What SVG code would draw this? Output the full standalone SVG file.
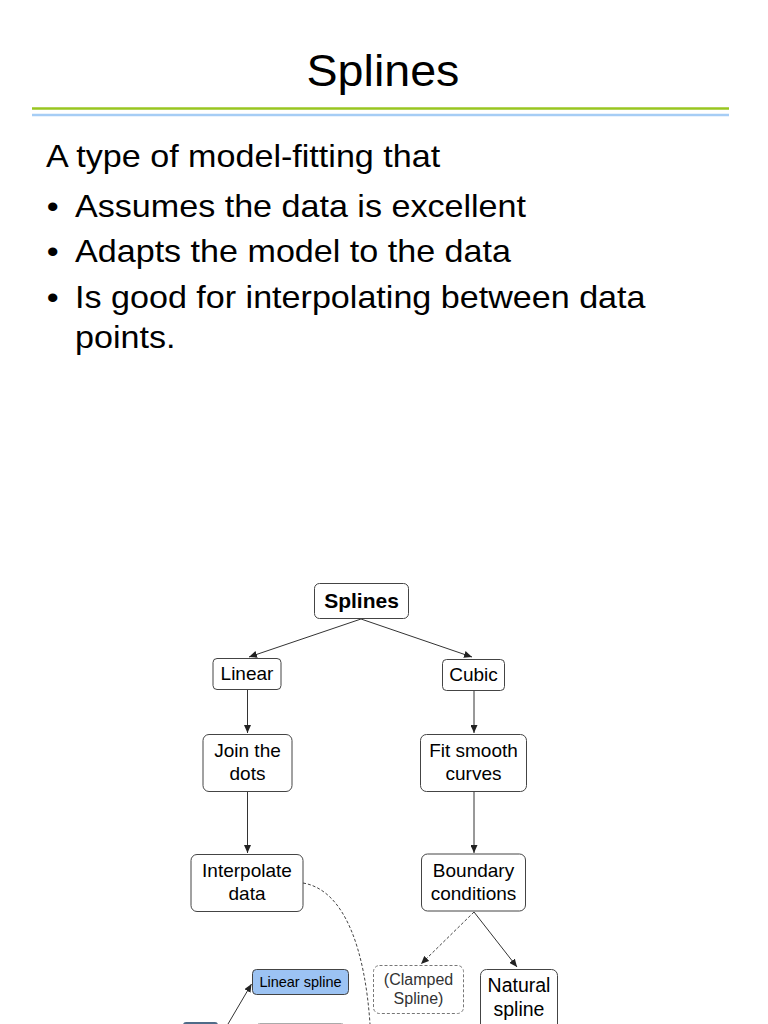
<svg xmlns="http://www.w3.org/2000/svg" width="768" height="1024" viewBox="0 0 768 1024">
<defs>
<style>
.t{font-family:"Liberation Sans",Arial,sans-serif;fill:#000}
.n{fill:#fff;stroke:#444;stroke-width:1}
.nl{font-family:"Liberation Sans",Arial,sans-serif;text-anchor:middle;fill:#000}
.c{fill:none;stroke:#333;stroke-width:1}
.d{fill:none;stroke:#444;stroke-width:1;stroke-dasharray:3 2}
</style>
<marker id="ah" markerUnits="userSpaceOnUse" markerWidth="8" markerHeight="7" refX="8" refY="3.5" orient="auto">
<path d="M0,0 L8,3.5 L0,7 z" fill="#222"/>
</marker>
</defs>
<rect width="768" height="1024" fill="#fff"/>
<g id="title">
<text class="t" transform="scale(1.06,1)" x="361.3" y="86" font-size="44" text-anchor="middle">Splines</text>
<line x1="32" y1="108.5" x2="729" y2="108.5" stroke="#99C620" stroke-width="2.5"/>
<line x1="32" y1="115" x2="729" y2="115" stroke="#A6CDF5" stroke-width="2.5"/>
</g>
<g id="body" transform="scale(1.1,1)">
<text class="t" font-size="31" x="41.8" y="167">A type of model-fitting that</text>
<text class="t" font-size="31" x="42.5" y="217">•</text>
<text class="t" font-size="31" x="68.2" y="217">Assumes the data is excellent</text>
<text class="t" font-size="31" x="42.5" y="262">•</text>
<text class="t" font-size="31" x="68.2" y="262">Adapts the model to the data</text>
<text class="t" font-size="31" x="42.5" y="308">•</text>
<text class="t" font-size="31" x="68.2" y="308">Is good for interpolating between data</text>
<text class="t" font-size="31" x="68.2" y="348">points.</text>
</g>
<g id="connectors">
<path class="c" d="M361,619 L249,657" marker-end="url(#ah)"/>
<path class="c" d="M361,619 L472,657" marker-end="url(#ah)"/>
<path class="c" d="M247.5,689 L247.5,733" marker-end="url(#ah)"/>
<path class="c" d="M474,690 L474,733" marker-end="url(#ah)"/>
<path class="c" d="M247.5,791 L247.5,853" marker-end="url(#ah)"/>
<path class="c" d="M474,791 L474,853" marker-end="url(#ah)"/>
<path class="d" d="M474,912 L421,964" marker-end="url(#ah)"/>
<path class="c" d="M474,912 L517,967" marker-end="url(#ah)"/>
<path class="d" d="M303,883 C345,890 365,950 370,1024"/>
<path class="c" d="M228,1024 L251.5,984" marker-end="url(#ah)"/>
</g>
<g id="n-splines">
<rect class="n" x="314.5" y="583.5" width="94" height="35" rx="5"/>
<text class="nl" x="361.5" y="608" style="font-size:21px;font-weight:bold">Splines</text>
</g>
<g id="n-linear">
<rect class="n" x="213" y="658.5" width="68" height="31" rx="4"/>
<text class="nl" x="247" y="680" style="font-size:19px">Linear</text>
</g>
<g id="n-cubic">
<rect class="n" x="442.5" y="659.5" width="62" height="31" rx="4"/>
<text class="nl" x="473.5" y="681" style="font-size:19px">Cubic</text>
</g>
<g id="n-join">
<rect class="n" x="203" y="734.5" width="89" height="57" rx="6"/>
<text class="nl" x="247.5" y="757" style="font-size:19px">Join the</text>
<text class="nl" x="247.5" y="780" style="font-size:19px">dots</text>
</g>
<g id="n-fit">
<rect class="n" x="420.5" y="734.5" width="106" height="57" rx="6"/>
<text class="nl" x="473.5" y="757" style="font-size:19px">Fit smooth</text>
<text class="nl" x="473.5" y="780" style="font-size:19px">curves</text>
</g>
<g id="n-interp">
<rect class="n" x="191" y="854.5" width="112" height="57" rx="6"/>
<text class="nl" x="247" y="877" style="font-size:19px">Interpolate</text>
<text class="nl" x="247" y="900" style="font-size:19px">data</text>
</g>
<g id="n-boundary">
<rect class="n" x="421.5" y="854" width="104" height="57" rx="6"/>
<text class="nl" x="473.5" y="877" style="font-size:19px">Boundary</text>
<text class="nl" x="473.5" y="900" style="font-size:19px">conditions</text>
</g>
<g id="n-clamped">
<rect x="373.5" y="965.5" width="90" height="48" rx="6" fill="#fff" stroke="#777" stroke-dasharray="3 2"/>
<text class="nl" x="418.5" y="985" style="font-size:16px;fill:#333">(Clamped</text>
<text class="nl" x="418.5" y="1004" style="font-size:16px;fill:#333">Spline)</text>
</g>
<g id="n-natural">
<rect class="n" x="480.5" y="969.5" width="77" height="70" rx="6"/>
<text class="nl" x="519" y="992" style="font-size:19.5px">Natural</text>
<text class="nl" x="519" y="1016" style="font-size:19.5px">spline</text>
</g>
<g id="n-linspline">
<rect x="252.5" y="969.5" width="96" height="25" rx="4" fill="#9CC3F3" stroke="#444"/>
<text class="nl" x="300.5" y="987" style="font-size:14.5px">Linear spline</text>
</g>
<g id="n-partial">
<rect x="183" y="1022" width="35" height="10" rx="3" fill="#4F6B88"/>
<rect x="257.5" y="1023.5" width="86" height="10" rx="2" fill="none" stroke="#AAA"/>
</g>
</svg>
